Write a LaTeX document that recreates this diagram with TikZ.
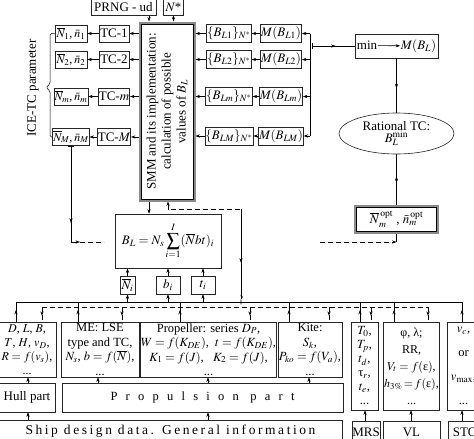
\documentclass[tikz,border=0pt]{standalone}
\usepackage{mathptmx}
\usepackage[no-math]{fontspec}
\setmainfont{Liberation Serif}
\usetikzlibrary{arrows.meta,shapes.geometric,decorations.markings,calc}
\newcommand\fntA{\fontsize{13}{15}\selectfont}
\newcommand\fntB{\fontsize{12.5}{14.5}\selectfont}
\newcommand\fntC{\fontsize{12}{14}\selectfont}
\begin{document}
\begin{tikzpicture}[x=1pt,y=-1pt,line width=0.6pt,
 bx/.style={draw=black!85,inner sep=0.5pt,align=center,font=\fntA},
 bxb/.style={bx,font=\fntB},
 thk/.style={draw=black!45,line width=3pt,inner sep=0.5pt,align=center,font=\fntA},
 arr/.style={-{Stealth[length=4.5pt,width=3.2pt]}},
 arrs/.style={{Stealth[length=4.5pt,width=3.2pt]}-},
 midarr/.style={postaction={decorate},decoration={markings,mark=at position #1 with {\arrow{Stealth[length=4.5pt,width=3.2pt]}}}},
 barst/.style={{Bar[width=6pt]}-},
 dsh/.style={dash pattern=on 5pt off 3pt}]
\useasboundingbox (0,0) rectangle (474,439);
\clip (0,0) rectangle (474,439);

% ---------- top ----------
\node[bx,minimum width=65,minimum height=17] (prng) at (123.5,7) {PRNG - ud};
\node[bx,minimum width=20,minimum height=17] (nstar) at (173.5,7) {$N$*};
\node[thk,minimum width=54,minimum height=177] (smm) at (167,111.5) {};
\draw[line width=0.8pt] ($(smm.north west)+(2.6,2.6)$) rectangle ($(smm.south east)+(-2.6,-2.6)$);
\node[rotate=90,align=center,font=\fntA] (smmt) at (smm.center) {SMM and its implementation:\\calculation of possible\\values of $B_L$};
\coordinate (xa) at (149,0);
\coordinate (xb) at (168,0);
\draw[arr] (prng.south -| xa) -- (smm.north -| xa);
\draw[arr] (nstar) -- (smm.north -| nstar);

% ---------- left rows ----------
\node[bx,minimum width=32,minimum height=17,font=\fntC] (n1) at (71,33.5) {$\overline{N}_{\!1}$,\,$\bar{n}_1$};
\node[bx,minimum width=32,minimum height=17,font=\fntC] (n2) at (71,59.5) {$\overline{N}_{\!2}$,\,$\bar{n}_2$};
\node[bx,minimum width=32,minimum height=17,font=\fntC] (nm) at (71,96.5) {$\overline{N}_{\!m}$,\,$\bar{n}_m$};
\node[bx,minimum width=32,minimum height=17,font=\fntC] (nM) at (71,137) {$\overline{N}_{\!M}$,\,$\bar{n}_M$};
\node[bx,minimum width=30,minimum height=17] (tc1) at (114,33.5) {TC-1};
\node[bx,minimum width=30,minimum height=17] (tc2) at (114,59.5) {TC-2};
\node[bx,minimum width=30,minimum height=17] (tcm) at (114,96.5) {TC-$m$};
\node[bx,minimum width=30,minimum height=17] (tcM) at (114,137) {TC-$M$};
\node[rotate=90,font=\fntA] (ice) at (33,88) {ICE-TC parameter};
\draw[line width=0.5pt,rounded corners=1.5pt] (n1.west) -- (50,33.5) -- (50,84) -- (46,87.5) -- (50,91) -- (50,137) -- (nM.west);
\foreach \a/\b in {n1/tc1,n2/tc2,nm/tcm,nM/tcM}{
  \draw[arr] (\b) -- (\a);
  \draw[arr] (smm.west |- \b) -- (\b);
}

% ---------- right rows ----------
\node[bx,minimum width=44,minimum height=18] (bl1) at (229,33.5) {$\{B_{L1}\}_{N^*}$};
\node[bx,minimum width=44,minimum height=18] (bl2) at (229,59.5) {$\{B_{L2}\}_{N^*}$};
\node[bx,minimum width=44,minimum height=18] (blm) at (229,96.5) {$\{B_{Lm}\}_{N^*}$};
\node[bx,minimum width=44,minimum height=18] (blM) at (229,136) {$\{B_{LM}\}_{N^*}$};
\node[bx,minimum width=40,minimum height=18] (mb1) at (281,33.5) {$M(B_{L1})$};
\node[bx,minimum width=40,minimum height=18] (mb2) at (281,59.5) {$M(B_{L2})$};
\node[bx,minimum width=40,minimum height=18] (mbm) at (281,96.5) {$M(B_{Lm})$};
\node[bx,minimum width=40,minimum height=18] (mbM) at (281,136) {$M(B_{LM})$};
\coordinate (c1) at (310,33.5);
\coordinate (c2) at (310,59.5);
\coordinate (c3) at (310,96.5);
\coordinate (c4) at (310,136);
\foreach \b/\m/\c in {bl1/mb1/c1,bl2/mb2/c2,blm/mbm/c3,blM/mbM/c4}{
  \draw[arr] (\b) -- (smm.east |- \b);
  \draw[arr] (\m) -- (\b);
  \draw[arr] (\c) -- (\m);
}
\draw (c1) -- (c4);

% ---------- min / rational / opt ----------
\node[bx,minimum width=83,minimum height=24] (minbox) at (396.5,46) {};
\node[font=\fntA,inner sep=0.5pt] (mintx) at (367,45.5) {min};
\node[font=\fntA,inner sep=0.5pt] (mblt) at (418.5,46) {$M(B_L)$};
\draw[arr] (mintx) -- (mblt);
\coordinate (cmin) at (312,46);
\draw[barst,midarr=0.55] (cmin) -- (minbox.west);
\node[draw=black!85,ellipse,minimum width=115,minimum height=41,inner sep=0pt,align=center,font=\fntA] (rat) at (396.5,133.5) {Rational TC:\\[-3pt]$B_L^{\min}$};
\draw[midarr=0.55] (minbox) -- (rat);
\node[thk,minimum width=82,minimum height=26] (nopt) at (396.5,219) {$\overline{N}_m^{\,\mathrm{opt}}$\ ,\ $\bar{n}_m^{\,\mathrm{opt}}$};
\draw[line width=0.8pt] ($(nopt.north west)+(2.6,2.6)$) rectangle ($(nopt.south east)+(-2.6,-2.6)$);
\draw[midarr=0.56] (nopt) -- (rat);

% ---------- B_L formula ----------
\node[bx,minimum width=106,minimum height=54] (blf) at (168,241) {$B_L = N_s\displaystyle\sum_{i=1}^{I}(\overline{N}bt)_i$};
\node[bx,minimum width=15,minimum height=18] (ni) at (127.5,285) {$\overline{N}_{\!i}$};
\node[bx,minimum width=24,minimum height=18] (bi) at (168,285) {$b_i$};
\node[bx,minimum width=24,minimum height=18] (ti) at (203,285) {$t_i$};
\draw[arr] (smm.south -| xa) -- (blf.north -| xa);
\coordinate (dk1) at (168,209);
\coordinate (dk2) at (241,209);
\coordinate (dk3) at (241,298.5);
\coordinate (dk4) at (241,307);
\draw[dsh,arrs] (smm.south -| xb) -- (dk1) -- (dk2) -- (dk3);
\draw[midarr=0.6] (dk2) -- (dk3);
\draw[dsh] (dk3) arc (90:-90:1.5) -- (dk4);
% feedback stubs
\coordinate (lb1) at (71,242);
\coordinate (lb2) at (80,242);
\coordinate (lb3) at (104,242);
\draw[barst,midarr=0.8] (nM.south) -- (lb1);
\draw[arr] (lb1) -- (lb2);
\draw[dsh] (lb2) -- (lb3);
\coordinate (rb1) at (320,242);
\coordinate (rb2) at (396.5,242);
\draw[dsh,arr] (rb1) -- (rb2);
\draw (rb2) -- (nopt);

% ---------- buses ----------
\coordinate (sA) at (16,302);
\coordinate (sB) at (78,302);
\coordinate (sC) at (180,302);
\coordinate (sD) at (289,302);
\coordinate (sE) at (360,302);
\coordinate (sF) at (394,302);
\coordinate (sG) at (462,302);
\coordinate (dA) at (42,307);
\coordinate (dB) at (122,307);
\coordinate (dC) at (250,307);
\coordinate (dD) at (329,307);
\coordinate (dE) at (371,307);
\coordinate (dF) at (428,307);
\draw (sA) -- (sG);
\draw[dsh] (dA) -- (dF);
\foreach \n in {ni,bi,ti}{
  \draw[arr] (\n) -- (blf.south -| \n);
  \draw[arr] (\n.south |- sA) -- (\n);
}

% ---------- bottom boxes ----------
\node[bxb,minimum width=58,minimum height=55,font=\fntC] (A) at (27,349.5) {$D$, $L$, $B$,\\$T$, $H$, $v_D$,\\$R=f(v_s)$,\\...};
\node[bxb,minimum width=78,minimum height=55] (B) at (100,349.5) {ME: LSE\\type and TC,\\$N_s$, $b=f(\overline{N})$,\\...};
\node[bxb,minimum width=129,minimum height=55] (C) at (208.5,349.5) {Propeller: series $D_P$,\\$W=f(K_{DE})$,\ \ $t=f(K_{DE})$,\\$K_1=f(J)$,\ \ \ $K_2=f(J)$,\\...};
\node[bxb,minimum width=64,minimum height=55] (D) at (310,349.5) {Kite:\\$S_k$,\\$P_{ko}=f(V_a)$,\\...};
\node[bxb,minimum width=27,minimum height=88,font=\fontsize{12.5}{14}\selectfont] (E) at (364.5,366) {$T_0$,\\$T_p$,\\$t_d$,\\$\mbox{τ}_r$,\\$t_e$,\\...};
\node[bxb,minimum width=55,minimum height=88,font=\fontsize{12}{17}\selectfont] (F) at (411.5,366) {φ, λ;\\RR,\\$V_t=f(\mbox{ε})$,\\$h_{3\%}\!=\!f(\mbox{ε})$,\\...};
\node[bxb,minimum width=33,minimum height=88,font=\fontsize{12.5}{24}\selectfont] (G) at (463.5,366) {$v_c$,\\or\\$v_{\max}$,\\...};
\foreach \b/\s in {A/sA,B/sB,C/sC,D/sD,E/sE,F/sF,G/sG}{
  \draw[midarr=0.6] (\b.north -| \s) -- (\s);
}
\foreach \b/\d in {A/dA,B/dB,C/dC,D/dD,E/dE,F/dF}{
  \draw[dsh,midarr=0.6] (\d) -- (\b.north -| \d);
}
\node[bx,minimum width=56,minimum height=29] (hull) at (27,397.5) {Hull part};
\node[bx,minimum width=281,minimum height=29,font=\fntB\addfontfeature{LetterSpace=66}] (prop) at (202.5,397.5) {Propulsion part};
\node[bx,minimum width=344,minimum height=22,font=\fontsize{13.5}{15}\selectfont\addfontfeature{LetterSpace=19}] (ship) at (170.5,431) {Ship design data. General information};
\node[bx,minimum width=28,minimum height=22,inner sep=0pt] (mrs) at (366,432) {MRS};
\node[bx,minimum width=57,minimum height=22] (vl) at (411.5,432) {VL};
\node[bx,minimum width=34,minimum height=22] (sto) at (465,432) {STO};
\coordinate (v1) at (28,0);
\coordinate (v2) at (98,0);
\coordinate (v3) at (208,0);
\coordinate (v4) at (309,0);
\coordinate (v5) at (365,0);
\coordinate (v6) at (411,0);
\coordinate (v7) at (462,0);
\draw[arr] (hull.north -| v1) -- (A.south -| v1);
\draw[arr] (prop.north -| v2) -- (B.south -| v2);
\draw[arr] (prop.north -| v3) -- (C.south -| v3);
\draw[arr] (prop.north -| v4) -- (D.south -| v4);
\draw[arr] (ship.north -| v1) -- (hull.south -| v1);
\draw[arr] (ship.north -| v3) -- (prop.south -| v3);
\draw[arr] (mrs.north -| v5) -- (E.south -| v5);
\draw[arr] (vl.north -| v6) -- (F.south -| v6);
\draw[arr] (sto.north -| v7) -- (G.south -| v7);
\end{tikzpicture}
\end{document}
